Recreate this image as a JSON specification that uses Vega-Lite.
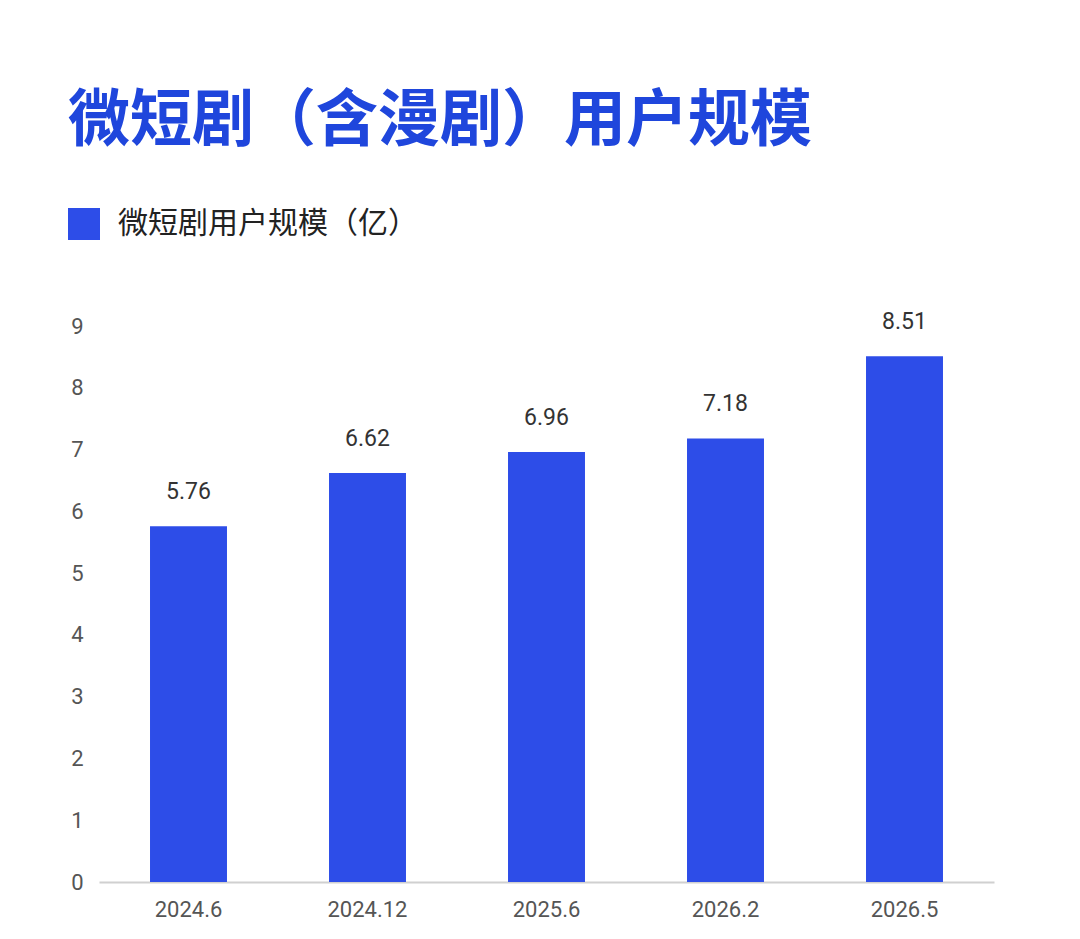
{
  "$schema": "https://vega.github.io/schema/vega-lite/v6.json",
  "width": 895,
  "height": 556,
  "autosize": {"type": "none"},
  "padding": {"left": 99, "top": 326, "right": 86, "bottom": 57},
  "background": "#ffffff",
  "title": {
    "text": "微短剧（含漫剧）用户规模",
    "anchor": "start",
    "frame": "group",
    "orient": "top",
    "dx": -31,
    "offset": 54,
    "font": "Noto Sans CJK SC",
    "fontSize": 62,
    "fontWeight": "bold",
    "color": "#1f46dc"
  },
  "data": {
    "values": [
      {"period": "2024.6", "users": 5.76},
      {"period": "2024.12", "users": 6.62},
      {"period": "2025.6", "users": 6.96},
      {"period": "2026.2", "users": 7.18},
      {"period": "2026.5", "users": 8.51}
    ]
  },
  "encoding": {
    "x": {
      "field": "period",
      "type": "nominal",
      "sort": null,
      "title": null,
      "scale": {"paddingInner": 0.57, "paddingOuter": 0.285},
      "axis": {
        "labelAngle": 0,
        "labelFont": "Roboto",
        "labelFontSize": 22,
        "labelColor": "#555555",
        "labelPadding": 17,
        "ticks": false,
        "domainColor": "#d0d0d0",
        "domainWidth": 2
      }
    },
    "y": {
      "field": "users",
      "type": "quantitative",
      "title": null,
      "scale": {"domain": [0, 9], "nice": false},
      "axis": {
        "values": [0, 1, 2, 3, 4, 5, 6, 7, 8, 9],
        "labelFont": "Roboto",
        "labelFontSize": 22,
        "labelColor": "#555555",
        "labelPadding": 16,
        "ticks": false,
        "domain": false,
        "grid": false
      }
    }
  },
  "layer": [
    {
      "mark": {"type": "bar", "color": "#2d4de8"},
      "encoding": {
        "color": {
          "datum": "微短剧用户规模（亿）",
          "type": "nominal",
          "scale": {"range": ["#2d4de8"]},
          "legend": {
            "title": null,
            "orient": "none",
            "legendX": -31,
            "legendY": -118,
            "symbolType": "square",
            "symbolSize": 1024,
            "symbolStrokeWidth": 0,
            "labelFont": "Noto Sans CJK SC",
            "labelFontSize": 30,
            "labelColor": "#222222",
            "labelOffset": 18,
            "labelLimit": 500,
            "labelBaseline": "middle",
            "labelDy": 3
          }
        }
      }
    },
    {
      "mark": {
        "type": "text",
        "dy": -27,
        "baseline": "alphabetic",
        "font": "Roboto",
        "fontSize": 23,
        "color": "#333333"
      },
      "encoding": {
        "text": {"field": "users", "type": "quantitative", "format": ".2f"}
      }
    }
  ],
  "config": {
    "view": {"stroke": null}
  }
}
